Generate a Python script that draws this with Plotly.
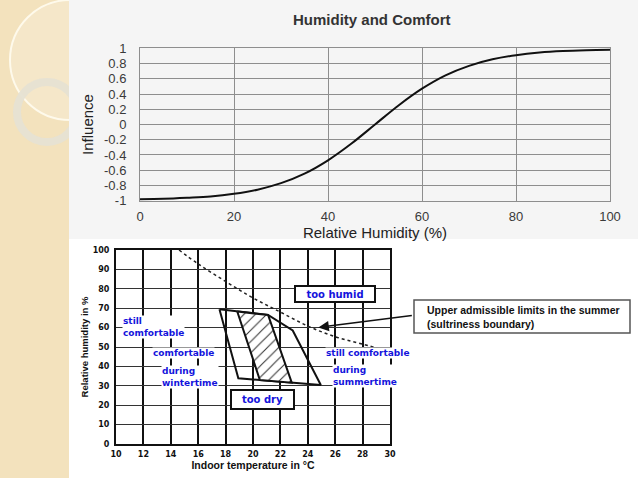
import plotly.graph_objects as go

# ---------------- data: top chart ----------------
rh_percent = [0, 5, 10, 15, 20, 25, 30, 35, 40, 45, 50, 55, 60, 65, 70, 75, 80, 85, 90, 95, 100]
influence = [-0.98, -0.975, -0.962, -0.945, -0.91, -0.855, -0.77, -0.645, -0.47, -0.25, 0.0,
             0.25, 0.47, 0.645, 0.77, 0.855, 0.91, 0.945, 0.965, 0.975, 0.98]
top_xtick_vals = [0, 20, 40, 60, 80, 100]
top_ytick_vals = [1, 0.8, 0.6, 0.4, 0.2, 0, -0.2, -0.4, -0.6, -0.8, -1]
top_ytick_text = ["1", "0.8", "0.6", "0.4", "0.2", "0", "-0.2", "-0.4", "-0.6", "-0.8", "-1"]

# ---------------- data: bottom chart ----------------
sultry_temp = [14.6, 16, 18, 20, 22, 24, 26, 28, 30]
sultry_rh = [100, 92.8, 83.8, 75.3, 68.0, 60.8, 55.3, 51.5, 47.6]
outer_temp = [17.55, 18.85, 21.1, 22.9, 24.95, 18.93, 17.55]
outer_rh = [69.5, 68.3, 66.5, 58.5, 30.4, 33.9, 69.5]
hatch_temp = [18.85, 21.1, 22.83, 20.5, 18.85]
hatch_rh = [68.3, 66.5, 31.6, 33.0, 68.3]
bot_xtick_vals = [10, 12, 14, 16, 18, 20, 22, 24, 26, 28, 30]
bot_ytick_vals = [0, 10, 20, 30, 40, 50, 60, 70, 80, 90, 100]

W, H = 638, 478
def px(x):
    return x / W
def py(y):
    return 1 - y / H

TOPF = "Liberation Sans, Arial, sans-serif"
BOTF = "DejaVu Sans, Verdana, sans-serif"
BLUE = "#1414DC"

fig = go.Figure()

# top chart
fig.add_trace(go.Scatter(x=rh_percent, y=influence, mode="lines",
                         line=dict(color="#111111", width=2, shape="spline"),
                         xaxis="x", yaxis="y", showlegend=False, hoverinfo="skip"))

# bottom chart
fig.add_trace(go.Scatter(x=sultry_temp, y=sultry_rh, mode="lines",
                         line=dict(color="#222222", width=1.5, dash="dot", shape="spline"),
                         xaxis="x2", yaxis="y2", showlegend=False, hoverinfo="skip"))
fig.add_trace(go.Scatter(x=outer_temp, y=outer_rh, mode="lines",
                         line=dict(color="#111111", width=2),
                         xaxis="x2", yaxis="y2", showlegend=False, hoverinfo="skip"))
fig.add_trace(go.Scatter(x=hatch_temp, y=hatch_rh, mode="lines", fill="toself",
                         fillcolor="white",
                         fillpattern=dict(shape="/", fgcolor="#333333", bgcolor="white",
                                          size=8, solidity=0.13),
                         line=dict(color="#111111", width=2),
                         xaxis="x2", yaxis="y2", showlegend=False, hoverinfo="skip"))

shapes = [
    # decorative circles on the beige strip
    dict(type="circle", xref="paper", yref="paper", layer="below",
         x0=px(10), x1=px(130), y0=py(120), y1=py(0),
         line=dict(color="rgba(255,252,240,0.9)", width=2),
         fillcolor="rgba(255,255,255,0.18)"),
    dict(type="circle", xref="paper", yref="paper", layer="below",
         x0=px(17), x1=px(77), y0=py(142), y1=py(82),
         line=dict(color="rgba(230,225,211,0.95)", width=8)),
    # panels
    dict(type="rect", xref="paper", yref="paper", layer="below",
         x0=px(69), x1=1, y0=py(239), y1=1,
         line=dict(width=0), fillcolor="#F5F5F5"),
    dict(type="rect", xref="paper", yref="paper", layer="below",
         x0=px(69), x1=1, y0=0, y1=py(239),
         line=dict(width=0), fillcolor="white"),
    # annotation box
    dict(type="rect", xref="paper", yref="paper", layer="above",
         x0=px(414), x1=px(630), y0=py(333), y1=py(300),
         line=dict(color="#555555", width=1.5), fillcolor="white"),
]

annotations = [
    dict(text="<b>Humidity and Comfort</b>", xref="paper", yref="paper",
         x=px(372), y=py(19), showarrow=False, xanchor="center", yanchor="middle",
         font=dict(family=TOPF, size=15, color="#333333")),
    # blue labels
    dict(text="still<br>comfortable", xref="x2", yref="y2", x=10.42, y=60.2,
         xanchor="left", align="left", showarrow=False, bgcolor="white", borderpad=0,
         font=dict(family=BOTF, size=9, color=BLUE, weight="bold")),
    dict(text="comfortable", xref="x2", yref="y2", x=12.6, y=46.7,
         xanchor="left", align="left", showarrow=False, bgcolor="white", borderpad=0,
         font=dict(family=BOTF, size=9, color=BLUE, weight="bold")),
    dict(text="during<br>wintertime", xref="x2", yref="y2", x=13.27, y=34.3,
         xanchor="left", align="left", showarrow=False, bgcolor="white", borderpad=0,
         font=dict(family=BOTF, size=9, color=BLUE, weight="bold")),
    dict(text="still comfortable", xref="x2", yref="y2", x=25.26, y=46.7,
         xanchor="left", align="left", showarrow=False, bgcolor="white", borderpad=0,
         font=dict(family=BOTF, size=9, color=BLUE, weight="bold")),
    dict(text="during<br>summertime", xref="x2", yref="y2", x=25.74, y=34.9,
         xanchor="left", align="left", showarrow=False, bgcolor="white", borderpad=0,
         font=dict(family=BOTF, size=9, color=BLUE, weight="bold")),
    dict(text="too humid", xref="x2", yref="y2", x=26.0, y=77.2,
         showarrow=False, bgcolor="white", bordercolor="#111111", borderwidth=2,
         borderpad=1, width=76, height=12,
         font=dict(family=BOTF, size=10, color=BLUE, weight="bold")),
    dict(text="too dry", xref="x2", yref="y2", x=20.69, y=22.9,
         showarrow=False, bgcolor="white", bordercolor="#111111", borderwidth=2,
         borderpad=1, width=59, height=15,
         font=dict(family=BOTF, size=10, color=BLUE, weight="bold")),
    # callout text and arrow
    dict(text="Upper admissible limits in the summer<br>(sultriness boundary)",
         xref="paper", yref="paper", x=px(425), y=py(316.5), xanchor="left",
         yanchor="middle", align="left", showarrow=False,
         font=dict(family=TOPF, size=10.5, color="#111111", weight="bold")),
    dict(text="", xref="x2", yref="y2", x=24.77, y=60.1, showarrow=True,
         ax=95, ay=-12, arrowhead=2, arrowsize=1.4, arrowwidth=1.5,
         arrowcolor="#111111", standoff=0),
]

fig.update_layout(
    template="none",
    width=W, height=H, autosize=False,
    margin=dict(l=0, r=0, t=0, b=0, pad=0, autoexpand=False),
    paper_bgcolor="#F3E2BD", plot_bgcolor="rgba(0,0,0,0)",
    showlegend=False,
    shapes=shapes, annotations=annotations,
    xaxis=dict(domain=[px(140), px(610)], range=[0, 100], tickvals=top_xtick_vals,
               automargin=False,
               showgrid=True, gridcolor="#8E8E8E", gridwidth=1, zeroline=False,
               showline=True, linecolor="#8E8E8E", linewidth=1, mirror=True,
               ticks="", ticklabelstandoff=4,
               tickfont=dict(family=TOPF, size=13, color="#3A3A3A"),
               title=dict(text="Relative Humidity (%)", standoff=0,
                          font=dict(family=TOPF, size=15, color="#222222"))),
    yaxis=dict(domain=[py(200.7), py(48.3)], range=[-1, 1], tickvals=top_ytick_vals,
               ticktext=top_ytick_text, automargin=False,
               showgrid=True, gridcolor="#8E8E8E", gridwidth=1, zeroline=False,
               showline=True, linecolor="#8E8E8E", linewidth=1, mirror=True,
               ticks="", ticklabelstandoff=10,
               tickfont=dict(family=TOPF, size=13, color="#3A3A3A"),
               title=dict(text="Influence", standoff=6,
                          font=dict(family=TOPF, size=15, color="#222222"))),
    xaxis2=dict(domain=[px(116), px(390)], range=[10, 30], tickvals=bot_xtick_vals,
                anchor="y2", automargin=False,
                showgrid=True, gridcolor="#111111", gridwidth=1.5, zeroline=False,
                showline=True, linecolor="#111111", linewidth=2, mirror=True,
                ticks="", ticklabelstandoff=1,
                tickfont=dict(family=BOTF, size=8, color="#111111", weight="bold"),
                title=dict(text="Indoor temperature in °C", standoff=3,
                           font=dict(family=TOPF, size=10.5, color="#111111", weight="bold"))),
    yaxis2=dict(domain=[py(444), py(250)], range=[0, 100], tickvals=bot_ytick_vals,
                anchor="x2", automargin=False,
                showgrid=True, gridcolor="#333333", gridwidth=1.2, zeroline=False,
                showline=True, linecolor="#111111", linewidth=2, mirror=True,
                ticks="", ticklabelstandoff=3,
                tickfont=dict(family=BOTF, size=8, color="#111111", weight="bold"),
                title=dict(text="Relative humidity in %", standoff=2,
                           font=dict(family=TOPF, size=9.5, color="#111111", weight="bold"))),
)

fig.write_html("out.html", config={"responsive": False, "displayModeBar": False},
               post_script="document.documentElement.style.margin='0';"
                           "document.body.style.margin='0';document.body.style.padding='0';"
                           "document.body.style.overflow='hidden';")
